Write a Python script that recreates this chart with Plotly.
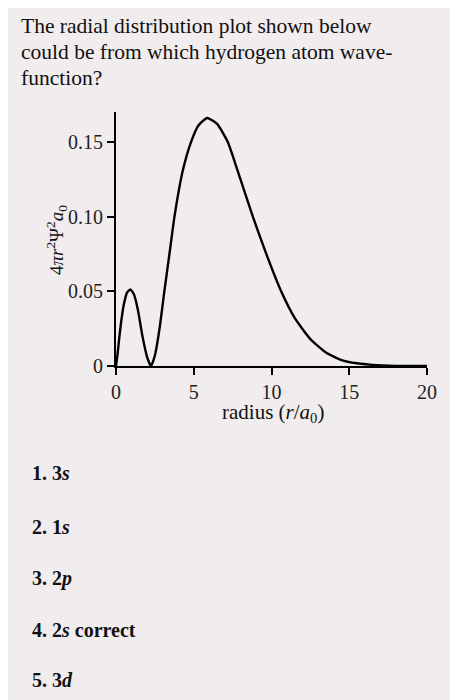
import plotly.graph_objects as go

radius = [0, 0.1, 0.2, 0.35, 0.5, 0.7, 0.92, 1.15, 1.4, 1.7, 2.0, 2.25, 2.5, 2.8, 3.11, 3.45, 3.76, 4.3, 4.83, 5.3, 5.86, 6.5, 7.19, 8.0, 8.8, 9.7, 10.62, 11.5, 12.5, 13.5, 14.5, 15.5, 16.5, 18.0, 20.0]
density = [0, 0.008, 0.018, 0.031, 0.041, 0.049, 0.0513, 0.048, 0.038, 0.020, 0.006, 0.0, 0.007, 0.025, 0.050, 0.076, 0.100, 0.131, 0.150, 0.161, 0.166, 0.162, 0.150, 0.125, 0.100, 0.074, 0.050, 0.032, 0.018, 0.009, 0.004, 0.0018, 0.0007, 0.0001, 0.0]
xticks = [0, 5, 10, 15, 20]
yticks = [0, 0.05, 0.10, 0.15]
ytick_text = ["0", "0.05", "0.10", "0.15"]
options = ["<b>1. 3<i>s</i></b>", "<b>2. 1<i>s</i></b>", "<b>3. 2<i>p</i></b>", "<b>4. 2<i>s</i> correct</b>", "<b>5. 3<i>d</i></b>"]
option_y = [465, 519, 570, 622, 672]

serif = "Liberation Serif"
fig = go.Figure(go.Scatter(x=radius, y=density, mode="lines",
                           line=dict(color="black", width=2.4, shape="spline", smoothing=0.5), hoverinfo="skip"))

H = 700
fig.update_layout(
    width=458, height=700, showlegend=False,
    paper_bgcolor="#f1ecee", plot_bgcolor="rgba(0,0,0,0)",
    margin=dict(l=108, r=39, t=104, b=342),
    font=dict(family=serif, color="#222", size=20),
    xaxis=dict(range=[0, 20], tickvals=xticks, ticks="outside", ticklen=7, tickwidth=1.5, tickcolor="black",
               showline=True, linecolor="black", linewidth=2, showgrid=False, zeroline=False,
               tickfont=dict(size=20, family=serif, color="#222")),
    yaxis=dict(range=[0, 0.17], tickvals=yticks, ticktext=ytick_text, ticks="outside", ticklen=7, tickwidth=1.5,
               tickcolor="black", showline=True, linecolor="black", linewidth=2, showgrid=False, zeroline=False,
               tickfont=dict(size=20, family=serif, color="#222")),
)

def pix(text, x, y, size=22, angle=0, anchor="left"):
    fig.add_annotation(text=text, xref="paper", yref="paper",
                       x=(x - 108) / (458 - 108 - 39), y=(H - 342 - y) / (H - 104 - 342),
                       xanchor=anchor, yanchor="middle", showarrow=False, textangle=angle,
                       font=dict(family=serif, size=size, color="#111"))

pix("The radial distribution plot shown below", 11, 18, size=21.5)
pix("could be from which hydrogen atom wave-", 11, 44, size=21.5)
pix("function?", 11, 70, size=21.5)
pix("4<i>πr</i><sup>2</sup>Ψ<sup>2</sup><i>a</i><sub>0</sub>", 48, 232, size=19, angle=-90, anchor="center")
pix("radius (<i>r</i>/<i>a</i><sub>0</sub>)", 265, 405, size=21, anchor="center")
for t, y in zip(options, option_y):
    pix(t, 22, y, size=20)

fig.write_html("out.html")
